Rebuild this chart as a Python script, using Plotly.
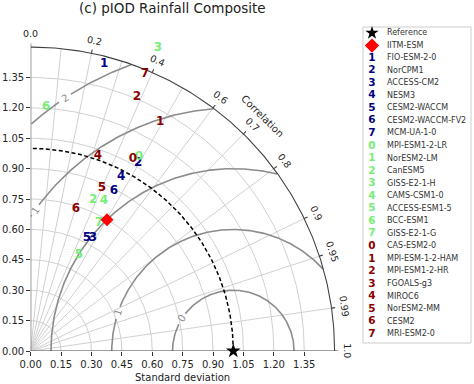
import numpy as np
import plotly.graph_objects as go

# ---------------- data ----------------
title_text = "(c) pIOD Rainfall Composite"
ref_name = "Reference"
ref_std = 1.0
ref_corr = 1.0
iitm_name = "IITM-ESM"
iitm_std = 0.749
iitm_corr = 0.503

navy_models = ["FIO-ESM-2-0", "NorCPM1", "ACCESS-CM2", "NESM3", "CESM2-WACCM",
               "CESM2-WACCM-FV2", "MCM-UA-1-0"]
navy_digits = ["1", "2", "3", "4", "5", "6", "7"]
navy_std = [1.462, 1.069, 0.637, 0.968, 0.623, 0.890, None]
navy_corr = [0.248, 0.496, 0.483, 0.461, 0.446, 0.462, None]

green_models = ["MPI-ESM1-2-LR", "NorESM2-LM", "CanESM5", "GISS-E2-1-H", "CAMS-CSM1-0",
                "ACCESS-ESM1-5", "BCC-ESM1", "GISS-E2-1-G"]
green_digits = ["0", "1", "2", "3", "4", "5", "6", "7"]
green_std = [1.097, None, 0.806, 1.622, 0.824, 0.530, 1.206, 0.716]
green_corr = [0.487, None, 0.382, 0.387, 0.439, 0.449, 0.063, 0.471]

red_models = ["CAS-ESM2-0", "MPI-ESM-1-2-HAM", "MPI-ESM1-2-HR", "FGOALS-g3", "MIROC6",
              "NorESM2-MM", "CESM2", "MRI-ESM2-0"]
red_digits = ["0", "1", "2", "3", "4", "5", "6", "7"]
red_std = [1.074, 1.298, 1.359, None, 1.018, 0.878, 0.736, 1.479]
red_corr = [0.470, 0.492, 0.386, None, 0.326, 0.401, 0.304, 0.381]

std_ticks = [0.00, 0.15, 0.30, 0.45, 0.60, 0.75, 0.90, 1.05, 1.20, 1.35]
corr_grid = [0.1, 0.2, 0.3, 0.4, 0.5, 0.6, 0.7, 0.8, 0.9, 0.95, 0.99]
corr_labels = [0.0, 0.2, 0.4, 0.6, 0.7, 0.8, 0.9, 0.95, 0.99, 1.0]
corr_label_text = ["0.0", "0.2", "0.4", "0.6", "0.7", "0.8", "0.9", "0.95", "0.99", "1.0"]
rms_levels = [0.3, 0.6, 0.9, 1.2, 1.5]
rms_label_text = ["0", "1", None, "1", "2"]
rms_label_phi = [148.0, 161.6, None, 144.6, 123.7]  # degrees around the reference point

# ---------------- styling ----------------
NAVY = "#000080"
GREEN = "#77ee77"
DRED = "#8b0000"
FONT = "DejaVu Sans"
SMAX = 1.5
W, H = 474, 384
PX_X0, PX_Y0, SCALE = 30.7, 351.0, 202.6
AX_MAX = 1.6


def to_xy(std, corr):
    xs, ys = [], []
    for s, c in zip(std, corr):
        if s is None or c is None:
            xs.append(None); ys.append(None)
        else:
            xs.append(s * c); ys.append(s * np.sqrt(1 - c * c))
    return xs, ys


fig = go.Figure()
theta = np.linspace(0, np.pi / 2, 200)

# std grid arcs
gx, gy = [], []
for s in std_ticks[1:]:
    gx += list(s * np.cos(theta)) + [None]
    gy += list(s * np.sin(theta)) + [None]
# correlation radial grid
for c in corr_grid:
    gx += [0, SMAX * c, None]
    gy += [0, SMAX * np.sqrt(1 - c * c), None]
fig.add_trace(go.Scatter(x=gx, y=gy, mode="lines", line=dict(color="#d0d0d0", width=1),
                         hoverinfo="skip"))

# RMS contours
cx, cy = [], []
for L, lab, phi0 in zip(rms_levels, rms_label_text, rms_label_phi):
    phis = np.linspace(0, np.pi, 600)
    gap = None
    if lab is not None:
        gap = 6.0 / (L * SCALE)
    prev_ok = False
    for p in phis:
        x = 1 + L * np.cos(p)
        y = L * np.sin(p)
        ok = x >= 0 and (x * x + y * y) <= SMAX * SMAX + 1e-9
        if ok and gap is not None and abs(p - np.radians(phi0)) < gap:
            ok = False
        if ok:
            cx.append(x); cy.append(y)
        elif prev_ok:
            cx.append(None); cy.append(None)
        prev_ok = ok
    cx.append(None); cy.append(None)
fig.add_trace(go.Scatter(x=cx, y=cy, mode="lines", line=dict(color="#8c8c8c", width=1.6),
                         hoverinfo="skip"))

# reference std dashed arc
fig.add_trace(go.Scatter(x=ref_std * np.cos(theta), y=ref_std * np.sin(theta), mode="lines",
                         line=dict(color="black", width=1.5, dash="4px,2.5px"), hoverinfo="skip"))

# outer arc, spines and ticks
ox = list(SMAX * np.cos(theta)) + [None, 0, SMAX, None, 0, 0]
oy = list(SMAX * np.sin(theta)) + [None, 0, 0, None, 0, SMAX]
for c in corr_labels:
    s_ = np.sqrt(1 - c * c)
    ox += [None, SMAX * c, (SMAX + 0.018) * c]
    oy += [None, SMAX * s_, (SMAX + 0.018) * s_]
fig.add_trace(go.Scatter(x=ox, y=oy, mode="lines", line=dict(color="#404040", width=1.1),
                         hoverinfo="skip", cliponaxis=False))

# model markers
for std, corr, digits, col in [(navy_std, navy_corr, navy_digits, NAVY),
                               (green_std, green_corr, green_digits, GREEN),
                               (red_std, red_corr, red_digits, DRED)]:
    xs, ys = to_xy(std, corr)
    fig.add_trace(go.Scatter(x=xs, y=ys, mode="text", text=digits, textposition="middle center",
                             textfont=dict(family=FONT, size=12, color=col, weight="bold"),
                             cliponaxis=False, hoverinfo="skip"))

# IITM-ESM diamond
ix, iy = to_xy([iitm_std], [iitm_corr])
fig.add_trace(go.Scatter(x=ix, y=iy, mode="markers",
                         marker=dict(symbol="diamond", size=10, color="#ff0000"),
                         cliponaxis=False, hoverinfo="skip"))
# reference star
rx, ry = to_xy([ref_std], [ref_corr])
fig.add_trace(go.Scatter(x=rx, y=ry, mode="markers",
                         marker=dict(symbol="star", size=11, color="black"),
                         cliponaxis=False, hoverinfo="skip"))

# ---------------- legend (separate axes) ----------------
legend_names = [ref_name, iitm_name] + navy_models + green_models + red_models
legend_glyph = [None, None] + navy_digits + green_digits + red_digits
legend_color = [None, None] + [NAVY] * len(navy_models) + [GREEN] * len(green_models) + \
               [DRED] * len(red_models)
rows = list(range(len(legend_names)))

fig.add_trace(go.Scatter(x=[9], y=[rows[0]], mode="markers", xaxis="x2", yaxis="y2",
                         marker=dict(symbol="star", size=10, color="black"),
                         cliponaxis=False, hoverinfo="skip"))
fig.add_trace(go.Scatter(x=[9], y=[rows[1]], mode="markers", xaxis="x2", yaxis="y2",
                         marker=dict(symbol="diamond", size=11, color="#ff0000"),
                         cliponaxis=False, hoverinfo="skip"))
fig.add_trace(go.Scatter(x=[9] * (len(rows) - 2), y=rows[2:], mode="text", xaxis="x2", yaxis="y2",
                         text=legend_glyph[2:],
                         textfont=dict(family=FONT, size=10.5, color=legend_color[2:], weight="bold"),
                         cliponaxis=False, hoverinfo="skip"))
fig.add_trace(go.Scatter(x=[24] * len(rows), y=rows, mode="text", xaxis="x2", yaxis="y2",
                         text=legend_names, textposition="middle right",
                         textfont=dict(family=FONT, size=8, color="#333333"),
                         cliponaxis=False, hoverinfo="skip"))

# ---------------- annotations ----------------
ann = []
for c, t in zip(corr_labels, corr_label_text):
    ang = np.degrees(np.arccos(c))
    r = 1.565
    ann.append(dict(x=r * np.cos(np.radians(ang)), y=r * np.sin(np.radians(ang)), text=t,
                    showarrow=False, textangle=90 - ang, xref="x", yref="y",
                    xanchor="center", yanchor="middle",
                    font=dict(family=FONT, size=9.5, color="#262626")))
# Correlation axis title
ca = 45.3
ann.append(dict(x=1.63 * np.cos(np.radians(ca)), y=1.63 * np.sin(np.radians(ca)), text="Correlation",
                showarrow=False, textangle=90 - ca, xref="x", yref="y",
                xanchor="center", yanchor="middle",
                font=dict(family=FONT, size=10, color="#262626")))
# RMS contour labels
for L, lab, phi0 in zip(rms_levels, rms_label_text, rms_label_phi):
    if lab is None:
        continue
    p = np.radians(phi0)
    tang = (phi0 + 90) % 180
    if tang > 90:
        tang -= 180
    ann.append(dict(x=1 + L * np.cos(p), y=L * np.sin(p), text=lab, showarrow=False,
                    textangle=-tang, xref="x", yref="y", xanchor="center", yanchor="middle",
                    font=dict(family=FONT, size=10, color="#8c8c8c")))
ann.append(dict(x=172 / W, y=1 - 8.5 / H, xref="paper", yref="paper", text=title_text,
                showarrow=False, xanchor="center", yanchor="middle",
                font=dict(family=FONT, size=13.5, color="#222222")))
ann.append(dict(x=182 / W, y=1 - 377.5 / H, xref="paper", yref="paper", text="Standard deviation",
                showarrow=False, xanchor="center", yanchor="middle",
                font=dict(family=FONT, size=10, color="#222222")))

fig.update_layout(
    width=W, height=H, margin=dict(l=0, r=0, t=0, b=0),
    paper_bgcolor="white", plot_bgcolor="white", showlegend=False, hovermode=False,
    annotations=ann,
    xaxis=dict(domain=[PX_X0 / W, (PX_X0 + AX_MAX * SCALE) / W], range=[0, AX_MAX],
               tickvals=std_ticks, ticktext=[f"{v:.2f}" for v in std_ticks],
               ticks="outside", ticklen=3.5, tickcolor="#333", showgrid=False, zeroline=False,
               showline=False, tickfont=dict(family=FONT, size=10, color="#262626"),
               fixedrange=True, automargin=False),
    yaxis=dict(domain=[1 - PX_Y0 / H, 1 - (PX_Y0 - AX_MAX * SCALE) / H], range=[0, AX_MAX],
               tickvals=std_ticks, ticktext=[f"{v:.2f}" for v in std_ticks],
               ticks="outside", ticklen=3.5, tickcolor="#333", showgrid=False, zeroline=False,
               showline=False, tickfont=dict(family=FONT, size=10, color="#262626"),
               fixedrange=True, automargin=False),
    xaxis2=dict(domain=[363 / W, 471 / W], range=[0, 108], visible=False, fixedrange=True,
                anchor="y2"),
    yaxis2=dict(domain=[1 - 343 / H, 1 - 27 / H], range=[24.7, -0.48], visible=False,
                fixedrange=True, anchor="x2"),
    shapes=[dict(type="rect", xref="x2 domain", yref="y2 domain", x0=0, x1=1, y0=0, y1=1,
                 line=dict(color="#cccccc", width=1), fillcolor="rgba(0,0,0,0)", layer="below")],
)

fig.write_html("out.html", config={"displayModeBar": False, "staticPlot": True},
               post_script="document.body.style.margin='0px';")
